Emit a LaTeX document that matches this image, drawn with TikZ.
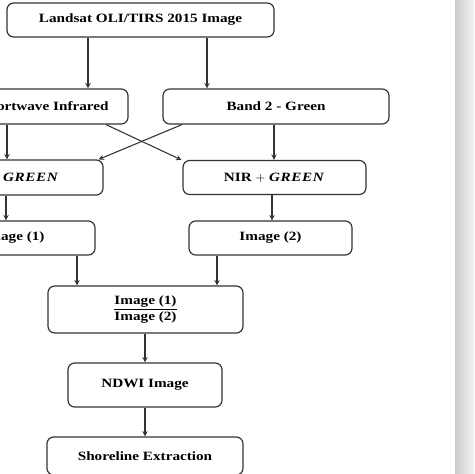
\documentclass[tikz,border=0pt]{standalone}
\usepackage{fontspec}
\usepackage{amsmath}
\setmainfont[FakeStretch=1.2]{Liberation Serif}
\newcommand{\greenband}{\textit{\addfontfeature{LetterSpace=5}GREEN}}
\begin{document}
\begin{tikzpicture}[x=0.75pt,y=-0.75pt,
  box/.style 2 args={draw=black!80,line width=0.9pt,rounded corners=5pt,fill=white,
    align=center,inner sep=0pt,minimum width=#1*0.75pt,minimum height=#2*0.75pt,
    font=\fontsize{9.5}{11}\selectfont\bfseries},
  link/.style={->,>=stealth,draw=black!80,line width=0.8pt}]
\useasboundingbox (0,0) rectangle (474,474);
\clip (0,0) rectangle (474,474);
\fill[white] (0,0) rectangle (474,474);
\shade[left color=black!20,right color=black!5] (455,0) rectangle (474,474);
\node[box={267}{34}] (landsat) at (140.5,20) {Landsat OLI/TIRS 2015 Image};
\node[box={226}{35}] (swir) at (15,106.5) {Band 6 - Shortwave Infrared};
\node[box={226}{35}] (green) at (276,106.5) {Band 2 - Green};
\node[box={189}{35}] (diff) at (8.5,177.5) {NIR $-$ \greenband};
\node[box={183}{34}] (sum) at (274.5,177.5) {NIR $+$ \greenband};
\node[box={163}{34}] (imgone) at (13.5,238) {Image (1)};
\node[box={163}{34}] (imgtwo) at (270.5,238) {Image (2)};
\node[box={195}{47}] (ratio) at (145.5,309.5) {$\dfrac{\text{Image (1)}}{\text{Image (2)}}$};
\node[box={154}{44}] (ndwi) at (145,385) {NDWI Image};
\node[box={196}{38}] (shore) at (145,456) {Shoreline Extraction};
\draw[link] (landsat.south -| 88,0) -- (swir.north -| 88,0);
\draw[link] (landsat.south -| 207,0) -- (green.north -| 207,0);
\draw[link] (swir.south -| 7,0) -- (diff.north -| 7,0);
\draw[link] (green.south -| 274,0) -- (sum.north -| 274,0);
\draw[link] (swir.south -| 106,0) -- ([xshift=-0.75pt]sum.north west);
\draw[link] (green.south -| 182,0) -- ([xshift=-3.75pt]diff.north east);
\draw[link] (diff.south -| 6,0) -- (imgone.north -| 6,0);
\draw[link] (sum.south -| 272,0) -- (imgtwo.north -| 272,0);
\draw[link] (imgone.south -| 77,0) -- (ratio.north -| 77,0);
\draw[link] (imgtwo.south -| 217,0) -- (ratio.north -| 217,0);
\draw[link] (ratio.south -| 145,0) -- (ndwi.north -| 145,0);
\draw[link] (ndwi.south -| 145,0) -- (shore.north -| 145,0);
\end{tikzpicture}
\end{document}
